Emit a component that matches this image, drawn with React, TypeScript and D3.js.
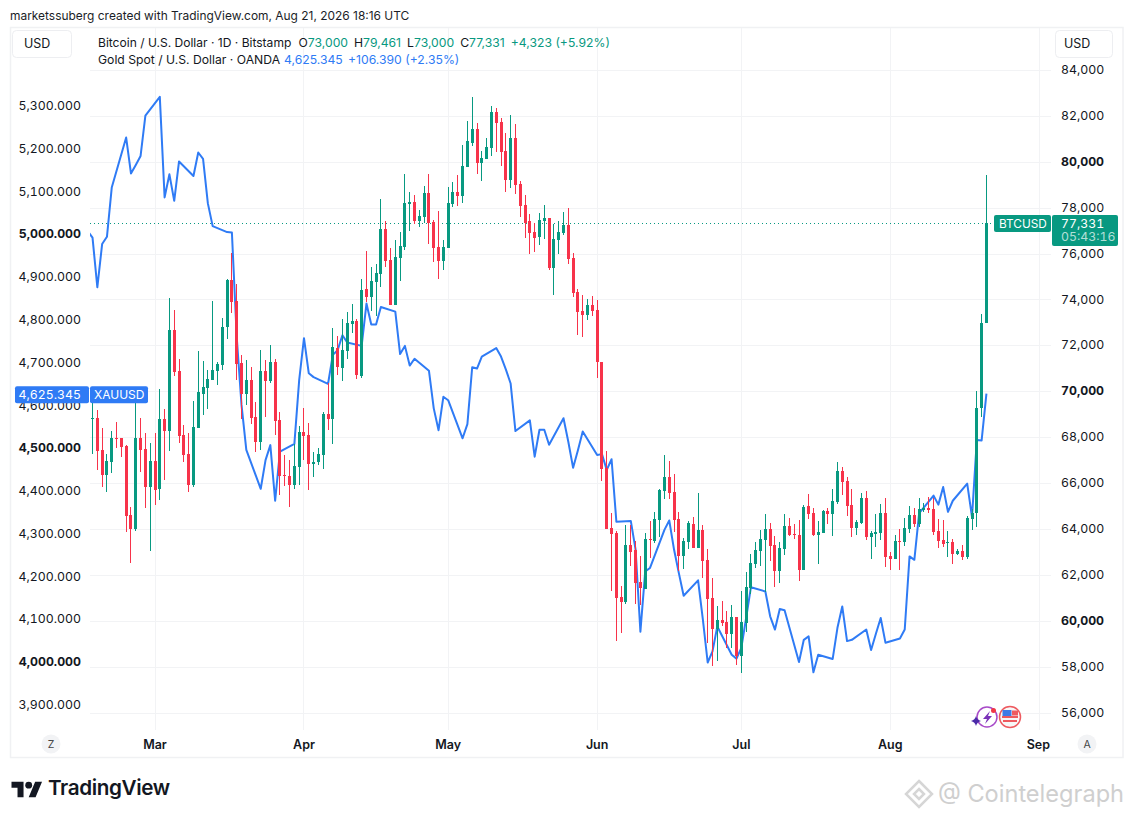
import React from "react";
import * as d3 from "d3";

const FONT = "Inter, 'Noto Sans', sans-serif";
const GREEN = "#089981";
const RED = "#F7334A";
const BLUE = "#2F7BF5";
const GRID = "#F2F3F5";

const btcOpen = [
  68799,68857,67448,66374,66955,67985,67985,67637,64631,64022,
  67985,67506,65851,66984,65764,68813,68290,72690,70904,68116,
  67288,65938,68421,69902,70164,70512,70904,71165,72821,74868,
  73953,71252,69902,70512,68900,67811,70904,70468,71296,68770,
  66374,66330,65938,66722,68247,68116,66853,66939,67244,69030,
  68812,71905,71034,71777,72953,73084,70688,74478,74129,74782,
  75131,77091,75741,73781,75828,76307,78180,78267,77440,77614,
  78659,77396,76307,75697,76264,78180,78703,78529,79792,80837,
  81447,79966,80140,80620,82188,81752,80489,79226,81055,79051,
  78137,77440,76960,76743,77440,77570,75392,76612,76917,77265,
  75828,74347,73519,73345,73781,73561,71296,66678,64065,63847,
  61059,60841,63324,63106,61712,61408,63586,63499,64413,65676,
  66286,65633,64457,62845,63455,64239,63194,63977,62671,61016,
  59665,60057,59970,59447,60188,58489,59927,61451,62497,63063,
  63542,64021,63324,62192,63150,64150,63802,63758,62234,65022,
  64717,63758,63846,64804,64673,65196,66546,66111,65065,64063,
  64281,65370,63671,63802,63846,64717,62844,62713,63497,63453,
  64020,64630,64238,64847,64935,64891,63933,63541,63410,63453,
  62931,63061,62800,64455,64703,69278,73000,
];
const btcHigh = [
  69860,69205,68421,67288,68290,68683,67985,67681,64980,69931,
  68857,68203,67768,68203,70120,69249,74084,73561,71427,68552,
  68203,69597,71775,71340,70948,73953,71296,73213,74912,76031,
  74693,71601,71383,71078,69554,71819,71383,72037,71427,69118,
  67245,67027,67724,68508,69292,68639,67376,67549,69117,70366,
  72776,72428,73168,73476,73824,73171,74913,76133,75436,75566,
  78398,77440,76264,76612,76960,79487,78703,78572,77919,78964,
  79487,77483,77875,76612,78921,79138,79443,80750,81796,82841,
  81709,80489,81055,82449,82362,81926,81273,82057,81665,79182,
  78572,77745,77353,77788,78137,77570,77309,77440,77832,78006,
  76046,74478,74216,74042,74173,73996,71296,67419,64718,63934,
  61538,64195,64195,63498,62845,63847,64370,64762,65764,67245,
  66983,66417,64762,63629,64370,64544,65589,64195,63150,61887,
  60667,60885,60449,60711,60188,61320,62148,62932,63455,63977,
  64675,64282,63716,63455,64675,64499,64238,64412,65065,65544,
  64935,64368,64847,64935,65762,66938,66720,66285,65762,64412,
  65588,65675,63933,64673,65109,65370,63018,63758,64020,64499,
  65022,64935,65370,65152,65414,65370,64455,64412,63933,63584,
  63148,63323,64586,64900,70032,73386,79461,
];
const btcLow = [
  67288,66592,65866,65648,66475,67550,67172,63891,62555,63934,
  66504,64936,63063,65067,65285,66156,67419,70686,67768,66940,
  65633,65851,68421,68987,69249,70512,70294,70948,72298,73430,
  70512,68813,69423,68595,67376,67463,68900,70381,68116,65503,
  65895,64980,65764,65938,67027,65720,66287,66808,66634,68333,
  67723,70729,70468,71443,72561,70572,70601,73911,73519,73301,
  74565,75436,73781,73781,74826,76176,77004,77309,77178,77353,
  76438,75654,74913,75305,76264,78050,78093,78224,79792,80707,
  79487,79182,80140,80271,80445,79835,78703,78877,78616,77614,
  76699,76002,76089,76394,76656,75305,74216,76002,76830,75566,
  74129,72474,72387,73127,73302,70599,66112,64021,61320,59142,
  59491,60754,62409,60754,60711,61408,62758,63411,63673,65328,
  65328,63891,62192,62279,63150,63194,63194,61887,59055,58053,
  58271,59796,58838,58838,58097,57749,59535,61190,62322,62409,
  61277,62627,61494,61669,62889,63715,63584,61755,62234,64455,
  63715,62495,63846,64238,63715,65109,65501,64586,63671,63758,
  64238,63541,62713,63236,63541,62365,62234,62713,62234,63279,
  63846,64107,64107,64760,64717,63758,63192,63236,62800,62495,
  62887,62669,62713,63975,64119,68899,73000,
];
const btcClose = [
  68842,67419,66374,66969,67985,67956,67608,64588,64022,67985,
  67463,65851,66984,65720,68813,68290,72690,70860,68073,67245,
  65938,68465,69989,70207,70556,70948,71209,72821,74868,73910,
  71209,69902,70512,68857,67811,70904,70468,71296,68726,66330,
  66330,65938,66766,68247,68073,66853,66940,67288,69030,68812,
  71949,71077,71818,72997,73084,70731,74434,74129,74826,75175,
  77091,75697,73781,75871,76351,78224,78267,77440,77657,78659,
  77353,76264,75697,76307,78224,78703,78529,79835,80924,81447,
  79966,80184,80663,82188,81709,80445,79226,81055,79008,78093,
  77353,76917,76699,77483,77570,75392,76656,76960,77265,75784,
  74303,73476,73345,73781,73519,71296,66635,64021,63803,61016,
  60841,63324,63019,61669,61451,63586,63542,64457,65720,66286,
  65589,64413,62845,63499,64282,63194,63977,62627,60972,59665,
  60057,59927,59447,60188,58489,59970,61494,62540,63106,63586,
  64021,63281,62192,63194,64152,63758,63758,62234,64978,64673,
  63758,63889,64804,64673,65239,66546,66067,65022,64063,64325,
  65370,63671,63846,63889,64717,62800,62713,63497,63453,64063,
  64630,64238,64891,64935,64847,63889,63497,63366,63453,62931,
  63061,62800,64499,64717,69278,73000,77331,
];

const goldValues = [
  5035,
  4990,4874,4975,4992,5107,
  5224,5140,5160,5181,5275,
  5319,5084,5138,5076,5168,
  5134,5189,5174,5070,5017,
  5003,5002,4759,4599,4494,
  4403,4470,4505,4375,4490,
  4508,4657,4755,4673,4664,
  4648,4716,4727,4762,4745,
  4737,4836,4787,4787,4828,
  4817,4718,4737,4691,4707,
  4679,4591,4540,4618,4610,
  4521,4554,4687,4684,4712,
  4732,4712,4682,4649,4538,
  4563,4478,4541,4541,4506,
  4568,4513,4452,4493,4537,
  4482,4484,4447,4472,4326,
  4328,4261,4069,4210,4218,
  4307,4329,4261,4206,4153,
  4189,4097,3997,4023,4081,
  4015,4006,4031,4101,4173,
  4163,4105,4074,4122,4119,
  3998,4050,4058,3974,4015,
  4005,4078,4128,4047,4050,
  4074,4026,4064,4101,4043,
  4053,4074,4245,4237,4346,
  4387,4366,4407,4349,4375,
  4415,4337,4517,4516,4625.345,
];

const btcTicks = [84000,82000,80000,78000,76000,74000,72000,70000,68000,66000,64000,62000,60000,58000,56000];
const btcBold = [80000,70000,60000];
const goldTicks = [5300,5200,5100,5000,4900,4800,4700,4600,4500,4400,4300,4200,4100,4000,3900];
const goldBold = [5000,4500,4000];
const monthStarts = [new Date(Date.UTC(2026,2,1)),new Date(Date.UTC(2026,3,1)),new Date(Date.UTC(2026,4,1)),new Date(Date.UTC(2026,5,1)),new Date(Date.UTC(2026,6,1)),new Date(Date.UTC(2026,7,1)),new Date(Date.UTC(2026,8,1))];
const monthNames = ["Mar","Apr","May","Jun","Jul","Aug","Sep"];

const firstCandle = new Date(Date.UTC(2026,1,16));
const firstGold = new Date(Date.UTC(2026,1,13));
const candleDates = btcOpen.map((_, i) => d3.utcDay.offset(firstCandle, i));
const goldDates = d3.utcDay.range(firstGold, d3.utcDay.offset(firstCandle, btcOpen.length)).filter(t => t.getUTCDay() !== 0 && t.getUTCDay() !== 6);

const x = d3.scaleUtc().domain([monthStarts[0], monthStarts[6]]).range([155, 1039.3]);
const yBtc = d3.scaleLinear().domain([56000, 84000]).range([713, 70.4]);
const yGold = d3.scaleLinear().domain([3900, 5300]).range([704, 105]);
const fmtBtc = d3.format(",d");
const fmtGold = d3.format(",.3f");

const goldLine = d3.line<number>()
  .x((_, i) => x(goldDates[i]))
  .y(v => yGold(v));

export default function App() {
  const lastBtc = btcClose[btcClose.length - 1];
  const lastGold = goldValues[goldValues.length - 1];
  const t = (s: any) => ({ fontFamily: FONT, ...s });
  const num = { fontFamily: FONT, fontVariantNumeric: "tabular-nums" };
  return (
    <svg width={1133} height={818} style={{ position: "absolute", left: 0, top: 0, background: "#fff" }}>
      <defs>
        <clipPath id="pane"><rect x={90} y={28} width={960} height={702} /></clipPath>
      </defs>
      <text x={10} y={20} fontSize={11.95} fill="#1b1e28" style={t({})}>marketssuberg created with TradingView.com, Aug 21, 2026 18:16 UTC</text>
      <rect x={10.5} y={27.5} width={1112.5} height={730} fill="#fff" stroke="#F0F1F3" strokeWidth={1.5} />

      {btcTicks.map(v => <line key={v} x1={90} x2={1051} y1={Math.floor(yBtc(v)) + 0.5} y2={Math.floor(yBtc(v)) + 0.5} stroke={GRID} strokeWidth={1} />)}
      {monthStarts.map((m, i) => <line key={i} x1={Math.floor(x(m)) + 0.5} x2={Math.floor(x(m)) + 0.5} y1={28} y2={730} stroke={GRID} strokeWidth={1} />)}

      <line x1={90} x2={995} y1={Math.floor(yBtc(lastBtc)) + 0.5} y2={Math.floor(yBtc(lastBtc)) + 0.5} stroke={GREEN} strokeWidth={1} strokeDasharray="1 3" />

      <g clipPath="url(#pane)">
        <path d={goldLine(goldValues) || ""} fill="none" stroke={BLUE} strokeWidth={2} strokeLinejoin="round" />
        {btcOpen.map((o, i) => {
          const c = btcClose[i];
          const color = c >= o ? GREEN : RED;
          const px = Math.floor(x(candleDates[i]));
          const top = Math.round(yBtc(Math.max(o, c)));
          const bot = Math.round(yBtc(Math.min(o, c)));
          return (
            <g key={i} shapeRendering="crispEdges">
              <line x1={px + 0.5} x2={px + 0.5} y1={yBtc(btcHigh[i])} y2={yBtc(btcLow[i])} stroke={color} strokeWidth={1} />
              <rect x={px - 1} y={top} width={3} height={Math.max(bot - top, 1)} fill={color} />
            </g>
          );
        })}
      </g>

      {/* header */}
      <rect x={12.5} y={30.5} width={59} height={27} rx={4} fill="#fff" stroke="#EDEEF1" />
      <text x={24} y={47.5} fontSize={12.5} fill="#131722" style={t({})}>USD</text>
      <rect x={1055.5} y={30.5} width={57} height={27} rx={4} fill="#fff" stroke="#EDEEF1" />
      <text x={1064} y={47.5} fontSize={12.5} fill="#131722" style={t({})}>USD</text>

      <text x={98} y={47} fontSize={12.05} fill="#131722" style={t({})}>Bitcoin / U.S. Dollar · 1D · Bitstamp</text>
      <text x={298.5} y={47} fontSize={12.2} style={t({})}>
        <tspan fill="#131722">O</tspan><tspan fill={GREEN}>73,000</tspan>
        <tspan fill="#131722" dx={6}>H</tspan><tspan fill={GREEN}>79,461</tspan>
        <tspan fill="#131722" dx={6}>L</tspan><tspan fill={GREEN}>73,000</tspan>
        <tspan fill="#131722" dx={6}>C</tspan><tspan fill={GREEN}>77,331</tspan>
        <tspan fill={GREEN} dx={6}>+4,323 (+5.92%)</tspan>
      </text>
      <text x={98} y={64} fontSize={12.2} fill="#131722" style={t({})}>Gold Spot / U.S. Dollar · OANDA</text>
      <text x={284} y={64} fontSize={12.2} fill={BLUE} style={t({})}>4,625.345</text>
      <text x={348} y={64} fontSize={12.2} fill={BLUE} style={t({})}>+106.390 (+2.35%)</text>

      {/* left axis */}
      {goldTicks.map(v => (
        <text key={v} x={81} y={yGold(v) + 5} textAnchor="end" fontSize={12.3} fontWeight={goldBold.includes(v) ? 700 : 400} fill="#131722" style={num}>{fmtGold(v)}</text>
      ))}
      {/* right axis */}
      {btcTicks.map(v => (
        <text key={v} x={1061} y={yBtc(v) + 3.6} fontSize={12.3} fontWeight={btcBold.includes(v) ? 700 : 400} fill="#131722" style={num}>{fmtBtc(v)}</text>
      ))}

      {/* gold labels */}
      <rect x={15} y={yGold(lastGold) - 7.5} width={74} height={17} rx={2} fill={BLUE} />
      <text x={81} y={yGold(lastGold) + 5.5} textAnchor="end" fontSize={12.3} fill="#fff" style={num}>{fmtGold(lastGold)}</text>
      <rect x={90} y={yGold(lastGold) - 7.5} width={58} height={17} rx={2} fill={BLUE} />
      <text x={94} y={yGold(lastGold) + 5.5} fontSize={12} fill="#fff" style={t({})}>XAUUSD</text>

      {/* btc labels */}
      <rect x={994} y={215} width={57} height={17} rx={2} fill={GREEN} />
      <text x={999} y={yBtc(lastBtc) + 4.5} fontSize={11.8} fill="#fff" style={t({})}>BTCUSD</text>
      <rect x={1052} y={215} width={66} height={31} rx={2} fill={GREEN} />
      <text x={1061} y={yBtc(lastBtc) + 4.5} fontSize={12.3} fill="#fff" style={num}>{fmtBtc(lastBtc)}</text>
      <text x={1061} y={241} fontSize={12.3} fill="#fff" fillOpacity={0.7} style={num}>05:43:16</text>

      {/* time axis */}
      {monthStarts.map((m, i) => (
        <text key={i} x={x(m) - (i === 6 ? 1 : 0)} y={748.5} textAnchor="middle" fontSize={12.5} fontWeight={600} fill="#131722" style={t({})}>{monthNames[i]}</text>
      ))}
      <circle cx={51} cy={744} r={9.5} fill="#F2F3F5" />
      <text x={51} y={748} textAnchor="middle" fontSize={10.5} fill="#444" style={t({})}>Z</text>
      <circle cx={1087} cy={744} r={9.5} fill="#F2F3F5" />
      <text x={1087} y={748} textAnchor="middle" fontSize={10.5} fill="#444" style={t({})}>A</text>

      {/* event icons */}
      <g>
        <circle cx={987} cy={717} r={10} fill="#fff" stroke="#A84BC8" strokeWidth={1.5} />
        <path d="M990 711 L983 719 L987 719 L985 724 L992 716 L988 716 Z" fill="#7A32B8" />
        <path d="M976 716 Q977 720 981 721 Q977 722 976 726 Q975 722 971 721 Q975 720 976 716 Z" fill="#4B2AA8" />
        <circle cx={993.5} cy={710.5} r={2.5} fill="#F23645" />
        <circle cx={1010} cy={717} r={10.5} fill="#F7F7F7" stroke="#EE5A5F" strokeWidth={1.5} />
        <path d="M1002 716 h16 v2 h-16 z M1003 720 h14 v2 h-14 z" fill="#EE5A5F" />
        <rect x={1002.5} y={710} width={9} height={6} fill="#3E7BE6" />
        <rect x={1012} y={710.5} width={6} height={5} fill="#EE5A5F" />
      </g>

      {/* footer */}
      <g transform="translate(11.5,780) scale(0.86)" fill="#131722">
        <path d="M14 20H7V9H0V2h14v18zM28 20h-8l7.5-18h8L28 20z" />
        <circle cx={20} cy={6} r={4} />
      </g>
      <text x={48} y={795} fontSize={20.7} fontWeight={600} fill="#131722" letterSpacing={-0.4} style={t({})}>TradingView</text>

      <g fill="none" stroke="#D6D6D6" strokeWidth={2.5}>
        <path d="M919 781 L932 794 L919 807 L906 794 Z" />
        <path d="M919 789 L924 794 L919 799 L914 794 Z" />
      </g>
      <text x={938} y={802} fontSize={24} fill="#CFCFCF" textLength={186} lengthAdjust="spacingAndGlyphs" style={t({})}>@ Cointelegraph</text>
    </svg>
  );
}
